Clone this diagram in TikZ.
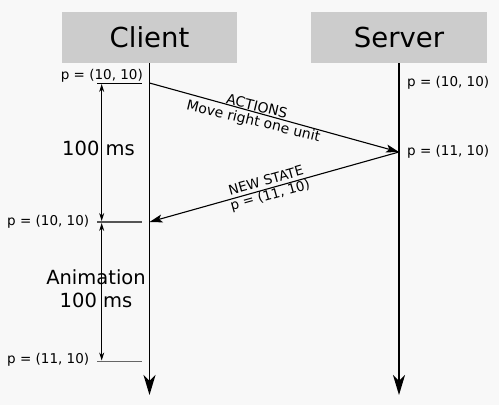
\documentclass[tikz,border=0pt]{standalone}
\usepackage{fontspec}
\setmainfont{DejaVu Sans}
\usetikzlibrary{arrows.meta}
\definecolor{bg}{HTML}{F8F8F8}
\definecolor{boxgray}{HTML}{CCCCCC}
\definecolor{tickgray}{HTML}{555555}
\definecolor{tickgrayb}{HTML}{666666}
\begin{document}
\begin{tikzpicture}[x=1pt,y=-1pt,
  actor/.style={fill=boxgray, minimum width=175pt, minimum height=51pt, inner sep=0pt, font=\fontsize{27.5}{33}\selectfont},
  small/.style={font=\fontsize{13.5}{15}\selectfont, inner sep=0pt},
  msglabel/.style={font=\fontsize{14}{15}\selectfont, inner sep=0pt, align=center},
  big/.style={font=\fontsize{19.5}{23.3}\selectfont, align=center, inner sep=0pt},
  life/.style={line width=1.6pt, -{Stealth[length=20pt,width=12pt,inset=6pt]}},
  msg/.style={line width=1.1pt, -{Stealth[length=13pt,width=8pt,inset=3pt]}},
  dimarrow/.style={line width=0.9pt, {Stealth[length=8pt,width=5pt]}-{Stealth[length=8pt,width=5pt]}},
  tickline/.style={line width=1pt},
]
\fill[bg] (0,0) rectangle (499,405);
\useasboundingbox (0,0) rectangle (499,405);
\node[actor] (client) at (149.5,37.5) {Client};
\node[actor, minimum width=176pt] (server) at (399,37.5) {Server};
\coordinate (cend) at (149.5,395);
\coordinate (send) at (399,395);
\draw[life] (client.south) -- (cend);
\draw[life] (server.south) -- (send);
% messages
\coordinate (a1) at (149.5,83);
\coordinate (s1) at (399,152);
\coordinate (a2) at (149.5,222);
\draw[msg] (a1) -- (s1);
\node[msglabel, rotate=-13.5] (actlabel) at (255,114.5) {ACTIONS\\Move right one unit};
\draw[msg] (s1) -- node[sloped, pos=0.524, small, align=center] (nslabel) {NEW STATE\\p = (11, 10)} (a2);
% ticks
\coordinate (t1a) at (97,83.3); \coordinate (t1b) at (142,83.3);
\coordinate (t2a) at (97,222); \coordinate (t2b) at (142,222);
\coordinate (t3a) at (97,361.5); \coordinate (t3b) at (142,361.5);
\draw[tickline] (t1a) -- (t1b);
\draw[tickline, tickgray, line width=2pt] (t2a) -- (t2b);
\draw[tickline, tickgrayb, line width=1.3pt] (t3a) -- (t3b);
% dimension arrows
\coordinate (d1a) at (101.7,84); \coordinate (d1b) at (101.7,221);
\coordinate (d2a) at (101.7,223); \coordinate (d2b) at (101.7,360.5);
\draw[dimarrow] (d1a) -- (d1b);
\draw[dimarrow] (d2a) -- (d2b);
% labels
\node[small, anchor=east] (l1) at (143,75.5) {p = (10, 10)};
\node[small, anchor=west] (l2) at (7,221.7) {p = (10, 10)};
\node[small, anchor=west] (l3) at (7,360) {p = (11, 10)};
\node[small, anchor=west] (r1) at (407,82.5) {p = (10, 10)};
\node[small, anchor=west] (r2) at (407,152) {p = (11, 10)};
\node[big] (ms1) at (98.5,148) {100 ms};
\node[big] (anim) at (96,288.5) {Animation\\100 ms};
\end{tikzpicture}
\end{document}
